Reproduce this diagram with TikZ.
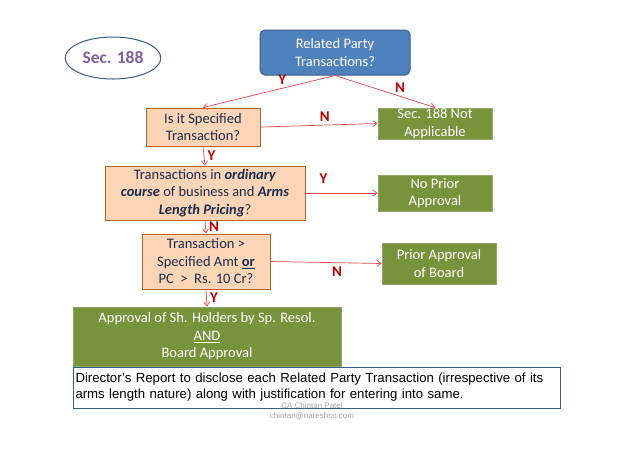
\documentclass[tikz,border=0pt]{standalone}
\usepackage{fontspec}
\setmainfont{Carlito}
\newfontfamily\arialf{Liberation Sans}
\usetikzlibrary{shapes.geometric,arrows.meta}
\definecolor{bluef}{HTML}{4F81BD}
\definecolor{blued}{HTML}{385D8A}
\definecolor{orf}{HTML}{FBD5B5}
\definecolor{ord}{HTML}{B7622B}
\definecolor{grn}{HTML}{77933C}
\definecolor{arr}{HTML}{E8474A}
\definecolor{lab}{HTML}{C00000}
\definecolor{purp}{HTML}{7F5F9F}
\definecolor{navy}{HTML}{1F3864}
\begin{document}
\begin{tikzpicture}[x=1pt,y=-1pt,
 box/.style={draw,line width=1pt,align=center,inner sep=0pt,font=\fontsize{14.5}{17.5}\selectfont},
 ob/.style={box,fill=orf,draw=ord,text=navy!80!black},
 gb/.style={box,fill=grn,draw=grn!80!white,text=white},
 ar/.style={draw=arr,line width=0.7pt,-{Straight Barb[length=4pt,width=6pt]}},
 yl/.style={text=lab,font=\fontsize{15}{17}\selectfont\bfseries}]
\useasboundingbox[fill=white] (0,0) rectangle (638,451);
\node[ellipse,draw=blued,line width=1pt,minimum width=90pt,minimum height=42pt,text=purp,font=\fontsize{17.5}{20}\selectfont\bfseries] (sec) at (113,58) {Sec. 188};
\node[box,rounded corners=5pt,fill=bluef,draw=blued,text=white,minimum width=150pt,minimum height=45pt] (rpt) at (335,52.5) {Related Party\\Transactions?};
\node[ob,minimum width=114pt,minimum height=38pt] (spec) at (203,127) {Is it Specified\\Transaction?};
\node[gb,minimum width=114pt,minimum height=31pt] (na) at (435,123.5) {Sec. 188 Not\\Applicable};
\node[ob,minimum width=200pt,minimum height=54pt] (ord) at (205,193) {Transactions in \textbf{\textit{ordinary}}\\\textbf{\textit{course}} of business and \textbf{\textit{Arms}}\\\textbf{\textit{Length Pricing}}?};
\node[gb,minimum width=114pt,minimum height=36pt] (np) at (435,193) {No Prior\\Approval};
\node[ob,minimum width=128pt,minimum height=55pt] (amt) at (206,261.5) {Transaction \textgreater\\Specified Amt \underline{\textbf{or}}\\PC\ \ \textgreater\ \ Rs. 10 Cr?};
\node[gb,minimum width=114pt,minimum height=41pt] (pab) at (439,263.5) {Prior Approval\\of Board};
\node[gb,minimum width=268pt,minimum height=59pt] (sh) at (207,336.5) {Approval of Sh. Holders by Sp. Resol.\\\underline{AND}\\Board Approval};
\node[draw=blued,line width=0.8pt,minimum width=487pt,minimum height=41pt,inner sep=0pt,text width=482pt,align=left,font=\arialf\fontsize{13.2}{16}\selectfont] (dr) at (316.5,387.5) {Director’s Report to disclose each Related Party Transaction (irrespective of its\\arms length nature) along with justification for entering into same.};
\node[text=gray!70,font=\arialf\fontsize{8}{10}\selectfont,align=center] (ft) at (312,411) {CA Chintan Patel\\chintan@nareshco.com};
\draw[ar] (rpt.south) -- (spec.north) node[yl,pos=0.4,above] {Y};
\draw[ar] (rpt.south) -- (na.north) node[yl,pos=0.65,above] {N};
\draw[ar] (spec.east) -- (na.west) node[yl,pos=0.55,above] {N};
\draw[ar] (spec.south) -- (ord.north) node[yl,midway,right] {Y};
\draw[ar] (ord.east) -- (np.west) node[yl,pos=0.25,above=6pt] {Y};
\draw[ar] (ord.south) -- (amt.north) node[yl,midway,right] {N};
\draw[ar] (amt.east) -- (pab.west) node[yl,pos=0.6,below] {N};
\draw[ar] (amt.south) -- (sh.north) node[yl,midway,right] {Y};
\end{tikzpicture}
\end{document}
